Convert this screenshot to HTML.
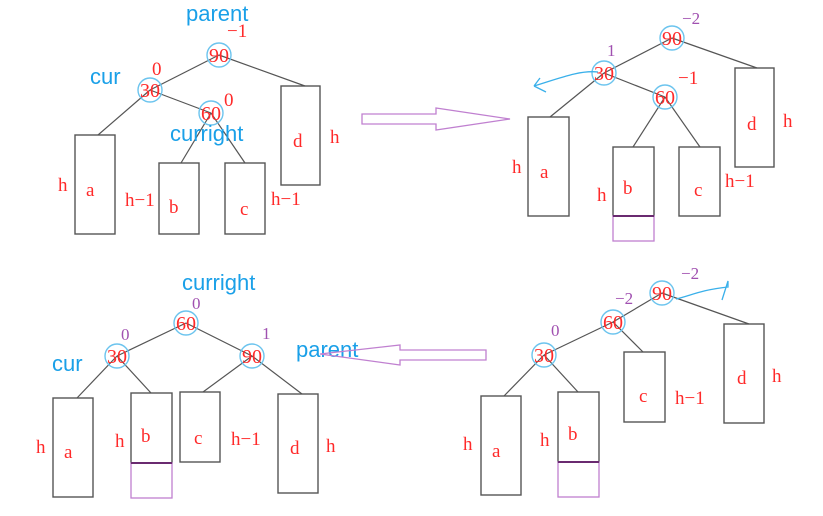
<!DOCTYPE html>
<html><head><style>
html,body{margin:0;padding:0;background:#fff;width:823px;height:516px;overflow:hidden}
svg text{font-family:"Liberation Serif",serif}
.r{fill:#ff2a2a;font-size:19px}
.p{fill:#a050b0;font-size:17px}
.bl{fill:#1aa0e8;font-family:"Liberation Sans",sans-serif!important;font-size:22px}
.n{fill:#ff2a2a;font-size:20px}
rect.b{fill:none;stroke:#555;stroke-width:1.4}
rect.pp{fill:none;stroke:#c080d0;stroke-width:1.3}
circle{fill:none;stroke:#6cc4ee;stroke-width:1.4}
line{stroke:#555;stroke-width:1.2}
</style></head><body>
<svg width="823" height="516" xmlns="http://www.w3.org/2000/svg">
<!-- Top-left -->
<line x1="219" y1="55" x2="150" y2="90"/><line x1="219" y1="55" x2="305" y2="86"/>
<line x1="150" y1="90" x2="211" y2="113"/><line x1="150" y1="90" x2="98" y2="135"/>
<line x1="211" y1="113" x2="181" y2="163"/><line x1="211" y1="113" x2="245" y2="163"/>
<rect class="b" x="75" y="135" width="40" height="99"/>
<rect class="b" x="159" y="163" width="40" height="71"/>
<rect class="b" x="225" y="163" width="40" height="71"/>
<rect class="b" x="281" y="86" width="39" height="99"/>
<circle cx="219" cy="55" r="12"/><circle cx="150" cy="90" r="12"/><circle cx="211" cy="113" r="12"/>
<text class="n" x="219" y="62" text-anchor="middle">90</text>
<text class="n" x="150" y="97" text-anchor="middle">30</text>
<text class="n" x="211" y="120" text-anchor="middle">60</text>
<text class="bl" x="186" y="21">parent</text>
<text class="r" x="227" y="37">−1</text>
<text class="bl" x="90" y="84">cur</text>
<text class="r" x="152" y="75">0</text>
<text class="r" x="224" y="106">0</text>
<text class="bl" x="170" y="141">curright</text>
<text class="r" x="58" y="191">h</text><text class="r" x="86" y="196">a</text>
<text class="r" x="125" y="206">h−1</text><text class="r" x="169" y="213">b</text>
<text class="r" x="240" y="215">c</text><text class="r" x="271" y="205">h−1</text>
<text class="r" x="293" y="147">d</text><text class="r" x="330" y="143">h</text>
<!-- right arrow -->
<path d="M362 114 H436 V108 L510 119 L436 130 V124 H362 Z" fill="none" stroke="#c080d0" stroke-width="1.3"/>
<!-- Top-right -->
<line x1="672" y1="38" x2="604" y2="73"/><line x1="672" y1="38" x2="757" y2="68"/>
<line x1="604" y1="73" x2="665" y2="97"/><line x1="604" y1="73" x2="550" y2="117"/>
<line x1="665" y1="97" x2="633" y2="147"/><line x1="665" y1="97" x2="700" y2="147"/>
<rect class="b" x="528" y="117" width="41" height="99"/>
<rect class="b" x="613" y="147" width="41" height="69"/>
<rect class="pp" x="613" y="216" width="41" height="25"/>
<line x1="613" y1="216" x2="654" y2="216" style="stroke:#6a2a70;stroke-width:2"/>
<rect class="b" x="679" y="147" width="41" height="69"/>
<rect class="b" x="735" y="68" width="39" height="99"/>
<circle cx="672" cy="38" r="12"/><circle cx="604" cy="73" r="12"/><circle cx="665" cy="97" r="12"/>
<text class="n" x="672" y="45" text-anchor="middle">90</text>
<text class="n" x="604" y="80" text-anchor="middle">30</text>
<text class="n" x="665" y="104" text-anchor="middle">60</text>
<text class="p" x="682" y="24">−2</text>
<text class="p" x="607" y="56">1</text>
<text class="r" x="678" y="84">−1</text>
<path d="M598 72 C580 70 560 78 534 86 M534 86 L540 78 M534 86 L546 92" fill="none" stroke="#3ab0ea" stroke-width="1.3"/>
<text class="r" x="512" y="173">h</text><text class="r" x="540" y="178">a</text>
<text class="r" x="597" y="201">h</text><text class="r" x="623" y="194">b</text>
<text class="r" x="694" y="196">c</text><text class="r" x="725" y="187">h−1</text>
<text class="r" x="747" y="130">d</text><text class="r" x="783" y="127">h</text>
<!-- Bottom-left -->
<line x1="186" y1="323" x2="117" y2="356"/><line x1="186" y1="323" x2="252" y2="356"/>
<line x1="117" y1="356" x2="77" y2="398"/><line x1="117" y1="356" x2="151" y2="393"/>
<line x1="252" y1="356" x2="203" y2="392"/><line x1="252" y1="356" x2="302" y2="394"/>
<rect class="b" x="53" y="398" width="40" height="99"/>
<rect class="b" x="131" y="393" width="41" height="70"/>
<rect class="pp" x="131" y="463" width="41" height="35"/>
<line x1="131" y1="463" x2="172" y2="463" style="stroke:#6a2a70;stroke-width:2"/>
<rect class="b" x="180" y="392" width="40" height="70"/>
<rect class="b" x="278" y="394" width="40" height="99"/>
<circle cx="186" cy="323" r="12"/><circle cx="117" cy="356" r="12"/><circle cx="252" cy="356" r="12"/>
<text class="n" x="186" y="330" text-anchor="middle">60</text>
<text class="n" x="117" y="363" text-anchor="middle">30</text>
<text class="n" x="252" y="363" text-anchor="middle">90</text>
<text class="bl" x="182" y="290">curright</text>
<text class="p" x="192" y="309">0</text>
<text class="p" x="121" y="340">0</text>
<text class="p" x="262" y="339">1</text>
<text class="bl" x="52" y="371">cur</text>
<text class="bl" x="296" y="357">parent</text>
<path d="M486 350 H400 V345 L320 354 L400 365 V360 H486 Z" fill="none" stroke="#c080d0" stroke-width="1.3"/>
<text class="r" x="36" y="453">h</text><text class="r" x="64" y="458">a</text>
<text class="r" x="115" y="447">h</text><text class="r" x="141" y="442">b</text>
<text class="r" x="194" y="444">c</text><text class="r" x="231" y="445">h−1</text>
<text class="r" x="290" y="454">d</text><text class="r" x="326" y="452">h</text>
<!-- Bottom-right -->
<line x1="662" y1="293" x2="613" y2="322"/><line x1="662" y1="293" x2="749" y2="324"/>
<line x1="613" y1="322" x2="544" y2="355"/><line x1="613" y1="322" x2="643" y2="352"/>
<line x1="544" y1="355" x2="504" y2="396"/><line x1="544" y1="355" x2="578" y2="392"/>
<rect class="b" x="481" y="396" width="40" height="99"/>
<rect class="b" x="558" y="392" width="41" height="70"/>
<rect class="pp" x="558" y="462" width="41" height="35"/>
<line x1="558" y1="462" x2="599" y2="462" style="stroke:#6a2a70;stroke-width:2"/>
<rect class="b" x="624" y="352" width="41" height="70"/>
<rect class="b" x="724" y="324" width="40" height="99"/>
<circle cx="662" cy="293" r="12"/><circle cx="613" cy="322" r="12"/><circle cx="544" cy="355" r="12"/>
<text class="n" x="662" y="300" text-anchor="middle">90</text>
<text class="n" x="613" y="329" text-anchor="middle">60</text>
<text class="n" x="544" y="362" text-anchor="middle">30</text>
<text class="p" x="681" y="279">−2</text>
<text class="p" x="615" y="304">−2</text>
<text class="p" x="551" y="336">0</text>
<path d="M676 299 C690 296 700 290 728 287 L728 281 L722 300" fill="none" stroke="#3ab0ea" stroke-width="1.3"/>
<text class="r" x="463" y="450">h</text><text class="r" x="492" y="457">a</text>
<text class="r" x="540" y="446">h</text><text class="r" x="568" y="440">b</text>
<text class="r" x="639" y="402">c</text><text class="r" x="675" y="404">h−1</text>
<text class="r" x="737" y="384">d</text><text class="r" x="772" y="382">h</text>
</svg>
</body></html>
